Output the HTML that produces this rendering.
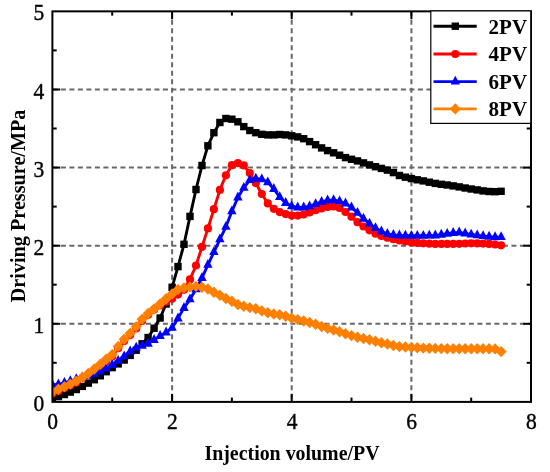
<!DOCTYPE html>
<html><head><meta charset="utf-8"><title>Driving Pressure vs Injection volume</title>
<style>html,body{margin:0;padding:0;background:#fff}svg{display:block}text{font-family:"Liberation Serif",serif;fill:#000}</style></head><body>
<svg width="550" height="472" viewBox="0 0 550 472">
<rect width="550" height="472" fill="#fff"/>
<g stroke="#686868" stroke-width="2" stroke-dasharray="5 3.5" fill="none"><line x1="172.1" y1="11.35" x2="172.1" y2="401.9"/><line x1="291.7" y1="11.35" x2="291.7" y2="401.9"/><line x1="411.4" y1="11.35" x2="411.4" y2="401.9"/><line x1="52.4" y1="323.8" x2="531.0" y2="323.8"/><line x1="52.4" y1="245.7" x2="531.0" y2="245.7"/><line x1="52.4" y1="167.6" x2="531.0" y2="167.6"/><line x1="52.4" y1="89.5" x2="531.0" y2="89.5"/></g>
<clipPath id="c"><rect x="52.4" y="11.35" width="478.6" height="390.54999999999995"/></clipPath>
<g clip-path="url(#c)"><polyline points="52.4,398.4 58.4,396.6 64.4,394.5 70.3,392.1 76.3,389.5 82.3,386.4 88.3,383.1 94.3,379.7 100.3,375.8 106.2,371.7 112.2,367.6 118.2,363.9 124.2,360.0 130.2,355.4 136.2,350.2 142.1,343.8 148.1,337.5 154.1,328.2 160.1,318.0 166.1,304.0 172.1,287.3 178.0,266.6 184.0,244.3 190.0,216.4 196.0,189.5 202.0,165.5 207.9,145.8 213.9,132.7 219.9,122.5 225.9,118.5 231.9,119.2 237.9,121.8 243.8,126.6 249.8,130.5 255.8,132.7 261.8,134.3 267.8,134.9 273.8,134.9 279.7,134.5 285.7,134.9 291.7,135.8 297.7,136.9 303.7,138.7 309.6,141.6 315.6,144.7 321.6,147.9 327.6,150.6 333.6,152.8 339.6,155.2 345.5,157.6 351.5,159.3 357.5,160.9 363.5,162.9 369.5,164.9 375.5,166.7 381.4,168.4 387.4,170.1 393.4,172.6 399.4,175.5 405.4,177.2 411.4,178.6 417.3,179.8 423.3,180.9 429.3,182.2 435.3,183.4 441.3,184.3 447.2,185.0 453.2,185.9 459.2,186.9 465.2,188.0 471.2,189.0 477.2,189.9 483.1,190.9 489.1,191.5 495.1,191.7 501.1,191.3" fill="none" stroke="#000000" stroke-width="2.9" stroke-linejoin="round"/>
<rect x="48.7" y="394.7" width="7.4" height="7.4" fill="#000000"/><rect x="54.7" y="392.9" width="7.4" height="7.4" fill="#000000"/><rect x="60.7" y="390.8" width="7.4" height="7.4" fill="#000000"/><rect x="66.6" y="388.4" width="7.4" height="7.4" fill="#000000"/><rect x="72.6" y="385.8" width="7.4" height="7.4" fill="#000000"/><rect x="78.6" y="382.7" width="7.4" height="7.4" fill="#000000"/><rect x="84.6" y="379.4" width="7.4" height="7.4" fill="#000000"/><rect x="90.6" y="376.0" width="7.4" height="7.4" fill="#000000"/><rect x="96.6" y="372.1" width="7.4" height="7.4" fill="#000000"/><rect x="102.5" y="368.0" width="7.4" height="7.4" fill="#000000"/><rect x="108.5" y="363.9" width="7.4" height="7.4" fill="#000000"/><rect x="114.5" y="360.2" width="7.4" height="7.4" fill="#000000"/><rect x="120.5" y="356.3" width="7.4" height="7.4" fill="#000000"/><rect x="126.5" y="351.7" width="7.4" height="7.4" fill="#000000"/><rect x="132.5" y="346.5" width="7.4" height="7.4" fill="#000000"/><rect x="138.4" y="340.1" width="7.4" height="7.4" fill="#000000"/><rect x="144.4" y="333.8" width="7.4" height="7.4" fill="#000000"/><rect x="150.4" y="324.5" width="7.4" height="7.4" fill="#000000"/><rect x="156.4" y="314.3" width="7.4" height="7.4" fill="#000000"/><rect x="162.4" y="300.3" width="7.4" height="7.4" fill="#000000"/><rect x="168.4" y="283.6" width="7.4" height="7.4" fill="#000000"/><rect x="174.3" y="262.9" width="7.4" height="7.4" fill="#000000"/><rect x="180.3" y="240.6" width="7.4" height="7.4" fill="#000000"/><rect x="186.3" y="212.7" width="7.4" height="7.4" fill="#000000"/><rect x="192.3" y="185.8" width="7.4" height="7.4" fill="#000000"/><rect x="198.3" y="161.8" width="7.4" height="7.4" fill="#000000"/><rect x="204.2" y="142.1" width="7.4" height="7.4" fill="#000000"/><rect x="210.2" y="129.0" width="7.4" height="7.4" fill="#000000"/><rect x="216.2" y="118.8" width="7.4" height="7.4" fill="#000000"/><rect x="222.2" y="114.8" width="7.4" height="7.4" fill="#000000"/><rect x="228.2" y="115.5" width="7.4" height="7.4" fill="#000000"/><rect x="234.2" y="118.1" width="7.4" height="7.4" fill="#000000"/><rect x="240.1" y="122.9" width="7.4" height="7.4" fill="#000000"/><rect x="246.1" y="126.8" width="7.4" height="7.4" fill="#000000"/><rect x="252.1" y="129.0" width="7.4" height="7.4" fill="#000000"/><rect x="258.1" y="130.6" width="7.4" height="7.4" fill="#000000"/><rect x="264.1" y="131.2" width="7.4" height="7.4" fill="#000000"/><rect x="270.1" y="131.2" width="7.4" height="7.4" fill="#000000"/><rect x="276.0" y="130.8" width="7.4" height="7.4" fill="#000000"/><rect x="282.0" y="131.2" width="7.4" height="7.4" fill="#000000"/><rect x="288.0" y="132.1" width="7.4" height="7.4" fill="#000000"/><rect x="294.0" y="133.2" width="7.4" height="7.4" fill="#000000"/><rect x="300.0" y="135.0" width="7.4" height="7.4" fill="#000000"/><rect x="305.9" y="137.9" width="7.4" height="7.4" fill="#000000"/><rect x="311.9" y="141.0" width="7.4" height="7.4" fill="#000000"/><rect x="317.9" y="144.2" width="7.4" height="7.4" fill="#000000"/><rect x="323.9" y="146.9" width="7.4" height="7.4" fill="#000000"/><rect x="329.9" y="149.1" width="7.4" height="7.4" fill="#000000"/><rect x="335.9" y="151.5" width="7.4" height="7.4" fill="#000000"/><rect x="341.8" y="153.9" width="7.4" height="7.4" fill="#000000"/><rect x="347.8" y="155.6" width="7.4" height="7.4" fill="#000000"/><rect x="353.8" y="157.2" width="7.4" height="7.4" fill="#000000"/><rect x="359.8" y="159.2" width="7.4" height="7.4" fill="#000000"/><rect x="365.8" y="161.2" width="7.4" height="7.4" fill="#000000"/><rect x="371.8" y="163.0" width="7.4" height="7.4" fill="#000000"/><rect x="377.7" y="164.7" width="7.4" height="7.4" fill="#000000"/><rect x="383.7" y="166.4" width="7.4" height="7.4" fill="#000000"/><rect x="389.7" y="168.9" width="7.4" height="7.4" fill="#000000"/><rect x="395.7" y="171.8" width="7.4" height="7.4" fill="#000000"/><rect x="401.7" y="173.5" width="7.4" height="7.4" fill="#000000"/><rect x="407.7" y="174.9" width="7.4" height="7.4" fill="#000000"/><rect x="413.6" y="176.1" width="7.4" height="7.4" fill="#000000"/><rect x="419.6" y="177.2" width="7.4" height="7.4" fill="#000000"/><rect x="425.6" y="178.5" width="7.4" height="7.4" fill="#000000"/><rect x="431.6" y="179.7" width="7.4" height="7.4" fill="#000000"/><rect x="437.6" y="180.6" width="7.4" height="7.4" fill="#000000"/><rect x="443.5" y="181.3" width="7.4" height="7.4" fill="#000000"/><rect x="449.5" y="182.2" width="7.4" height="7.4" fill="#000000"/><rect x="455.5" y="183.2" width="7.4" height="7.4" fill="#000000"/><rect x="461.5" y="184.3" width="7.4" height="7.4" fill="#000000"/><rect x="467.5" y="185.3" width="7.4" height="7.4" fill="#000000"/><rect x="473.5" y="186.2" width="7.4" height="7.4" fill="#000000"/><rect x="479.4" y="187.2" width="7.4" height="7.4" fill="#000000"/><rect x="485.4" y="187.8" width="7.4" height="7.4" fill="#000000"/><rect x="491.4" y="188.0" width="7.4" height="7.4" fill="#000000"/><rect x="497.4" y="187.6" width="7.4" height="7.4" fill="#000000"/></g>
<g clip-path="url(#c)"><polyline points="52.4,393.7 58.4,390.9 64.4,388.0 70.3,385.3 76.3,382.3 82.3,378.1 88.3,374.5 94.3,371.3 100.3,366.7 106.2,361.5 112.2,356.5 118.2,348.2 124.2,341.1 130.2,335.1 136.2,328.4 142.1,321.0 148.1,314.8 154.1,309.6 160.1,305.4 166.1,301.7 172.1,298.7 178.0,294.6 184.0,289.8 190.0,279.4 196.0,265.5 202.0,246.9 207.9,228.4 213.9,209.2 219.9,189.9 225.9,175.3 231.9,165.2 237.9,163.2 243.8,165.4 249.8,173.1 255.8,183.1 261.8,194.0 267.8,203.4 273.8,208.8 279.7,212.1 285.7,214.1 291.7,215.6 297.7,215.6 303.7,214.5 309.6,212.4 315.6,210.2 321.6,208.5 327.6,206.9 333.6,206.5 339.6,208.0 345.5,212.0 351.5,216.7 357.5,222.2 363.5,226.5 369.5,230.3 375.5,233.7 381.4,235.9 387.4,237.7 393.4,239.2 399.4,240.4 405.4,241.5 411.4,242.4 417.3,242.9 423.3,243.3 429.3,243.7 435.3,243.9 441.3,243.9 447.2,243.9 453.2,243.9 459.2,243.8 465.2,243.5 471.2,243.3 477.2,243.4 483.1,243.6 489.1,243.9 495.1,244.5 501.1,245.3" fill="none" stroke="#ff0000" stroke-width="2.9" stroke-linejoin="round"/>
<circle cx="52.4" cy="393.7" r="4.1" fill="#ff0000"/><circle cx="58.4" cy="390.9" r="4.1" fill="#ff0000"/><circle cx="64.4" cy="388.0" r="4.1" fill="#ff0000"/><circle cx="70.3" cy="385.3" r="4.1" fill="#ff0000"/><circle cx="76.3" cy="382.3" r="4.1" fill="#ff0000"/><circle cx="82.3" cy="378.1" r="4.1" fill="#ff0000"/><circle cx="88.3" cy="374.5" r="4.1" fill="#ff0000"/><circle cx="94.3" cy="371.3" r="4.1" fill="#ff0000"/><circle cx="100.3" cy="366.7" r="4.1" fill="#ff0000"/><circle cx="106.2" cy="361.5" r="4.1" fill="#ff0000"/><circle cx="112.2" cy="356.5" r="4.1" fill="#ff0000"/><circle cx="118.2" cy="348.2" r="4.1" fill="#ff0000"/><circle cx="124.2" cy="341.1" r="4.1" fill="#ff0000"/><circle cx="130.2" cy="335.1" r="4.1" fill="#ff0000"/><circle cx="136.2" cy="328.4" r="4.1" fill="#ff0000"/><circle cx="142.1" cy="321.0" r="4.1" fill="#ff0000"/><circle cx="148.1" cy="314.8" r="4.1" fill="#ff0000"/><circle cx="154.1" cy="309.6" r="4.1" fill="#ff0000"/><circle cx="160.1" cy="305.4" r="4.1" fill="#ff0000"/><circle cx="166.1" cy="301.7" r="4.1" fill="#ff0000"/><circle cx="172.1" cy="298.7" r="4.1" fill="#ff0000"/><circle cx="178.0" cy="294.6" r="4.1" fill="#ff0000"/><circle cx="184.0" cy="289.8" r="4.1" fill="#ff0000"/><circle cx="190.0" cy="279.4" r="4.1" fill="#ff0000"/><circle cx="196.0" cy="265.5" r="4.1" fill="#ff0000"/><circle cx="202.0" cy="246.9" r="4.1" fill="#ff0000"/><circle cx="207.9" cy="228.4" r="4.1" fill="#ff0000"/><circle cx="213.9" cy="209.2" r="4.1" fill="#ff0000"/><circle cx="219.9" cy="189.9" r="4.1" fill="#ff0000"/><circle cx="225.9" cy="175.3" r="4.1" fill="#ff0000"/><circle cx="231.9" cy="165.2" r="4.1" fill="#ff0000"/><circle cx="237.9" cy="163.2" r="4.1" fill="#ff0000"/><circle cx="243.8" cy="165.4" r="4.1" fill="#ff0000"/><circle cx="249.8" cy="173.1" r="4.1" fill="#ff0000"/><circle cx="255.8" cy="183.1" r="4.1" fill="#ff0000"/><circle cx="261.8" cy="194.0" r="4.1" fill="#ff0000"/><circle cx="267.8" cy="203.4" r="4.1" fill="#ff0000"/><circle cx="273.8" cy="208.8" r="4.1" fill="#ff0000"/><circle cx="279.7" cy="212.1" r="4.1" fill="#ff0000"/><circle cx="285.7" cy="214.1" r="4.1" fill="#ff0000"/><circle cx="291.7" cy="215.6" r="4.1" fill="#ff0000"/><circle cx="297.7" cy="215.6" r="4.1" fill="#ff0000"/><circle cx="303.7" cy="214.5" r="4.1" fill="#ff0000"/><circle cx="309.6" cy="212.4" r="4.1" fill="#ff0000"/><circle cx="315.6" cy="210.2" r="4.1" fill="#ff0000"/><circle cx="321.6" cy="208.5" r="4.1" fill="#ff0000"/><circle cx="327.6" cy="206.9" r="4.1" fill="#ff0000"/><circle cx="333.6" cy="206.5" r="4.1" fill="#ff0000"/><circle cx="339.6" cy="208.0" r="4.1" fill="#ff0000"/><circle cx="345.5" cy="212.0" r="4.1" fill="#ff0000"/><circle cx="351.5" cy="216.7" r="4.1" fill="#ff0000"/><circle cx="357.5" cy="222.2" r="4.1" fill="#ff0000"/><circle cx="363.5" cy="226.5" r="4.1" fill="#ff0000"/><circle cx="369.5" cy="230.3" r="4.1" fill="#ff0000"/><circle cx="375.5" cy="233.7" r="4.1" fill="#ff0000"/><circle cx="381.4" cy="235.9" r="4.1" fill="#ff0000"/><circle cx="387.4" cy="237.7" r="4.1" fill="#ff0000"/><circle cx="393.4" cy="239.2" r="4.1" fill="#ff0000"/><circle cx="399.4" cy="240.4" r="4.1" fill="#ff0000"/><circle cx="405.4" cy="241.5" r="4.1" fill="#ff0000"/><circle cx="411.4" cy="242.4" r="4.1" fill="#ff0000"/><circle cx="417.3" cy="242.9" r="4.1" fill="#ff0000"/><circle cx="423.3" cy="243.3" r="4.1" fill="#ff0000"/><circle cx="429.3" cy="243.7" r="4.1" fill="#ff0000"/><circle cx="435.3" cy="243.9" r="4.1" fill="#ff0000"/><circle cx="441.3" cy="243.9" r="4.1" fill="#ff0000"/><circle cx="447.2" cy="243.9" r="4.1" fill="#ff0000"/><circle cx="453.2" cy="243.9" r="4.1" fill="#ff0000"/><circle cx="459.2" cy="243.8" r="4.1" fill="#ff0000"/><circle cx="465.2" cy="243.5" r="4.1" fill="#ff0000"/><circle cx="471.2" cy="243.3" r="4.1" fill="#ff0000"/><circle cx="477.2" cy="243.4" r="4.1" fill="#ff0000"/><circle cx="483.1" cy="243.6" r="4.1" fill="#ff0000"/><circle cx="489.1" cy="243.9" r="4.1" fill="#ff0000"/><circle cx="495.1" cy="244.5" r="4.1" fill="#ff0000"/><circle cx="501.1" cy="245.3" r="4.1" fill="#ff0000"/></g>
<g clip-path="url(#c)"><polyline points="52.4,385.0 58.4,384.3 64.4,382.8 70.3,381.1 76.3,379.2 82.3,377.5 88.3,375.8 94.3,373.8 100.3,371.5 106.2,368.6 112.2,364.9 118.2,360.8 124.2,356.3 130.2,351.5 136.2,347.7 142.1,345.7 148.1,343.8 154.1,339.9 160.1,336.0 166.1,332.5 172.1,327.8 178.0,318.4 184.0,307.9 190.0,299.3 196.0,289.2 202.0,277.9 207.9,264.8 213.9,252.1 219.9,239.3 225.9,226.8 231.9,211.3 237.9,197.5 243.8,187.8 249.8,180.1 255.8,178.7 261.8,179.3 267.8,182.3 273.8,188.9 279.7,197.1 285.7,203.0 291.7,206.3 297.7,207.4 303.7,207.4 309.6,206.3 315.6,204.1 321.6,201.9 327.6,200.4 333.6,200.2 339.6,201.3 345.5,203.5 351.5,207.4 357.5,212.8 363.5,218.7 369.5,223.7 375.5,228.1 381.4,231.4 387.4,234.0 393.4,235.0 399.4,235.4 405.4,235.6 411.4,235.8 417.3,235.8 423.3,235.8 429.3,235.6 435.3,235.4 441.3,234.7 447.2,233.8 453.2,233.0 459.2,232.5 465.2,233.4 471.2,234.6 477.2,235.3 483.1,236.1 489.1,236.7 495.1,237.2 501.1,237.1" fill="none" stroke="#0000ff" stroke-width="2.9" stroke-linejoin="round"/>
<path d="M52.4 379.1L57.1 388.0L47.7 388.0Z" fill="#0000ff"/><path d="M58.4 378.4L63.1 387.3L53.7 387.3Z" fill="#0000ff"/><path d="M64.4 376.9L69.1 385.8L59.7 385.8Z" fill="#0000ff"/><path d="M70.3 375.2L75.0 384.1L65.6 384.1Z" fill="#0000ff"/><path d="M76.3 373.3L81.0 382.2L71.6 382.2Z" fill="#0000ff"/><path d="M82.3 371.6L87.0 380.5L77.6 380.5Z" fill="#0000ff"/><path d="M88.3 369.9L93.0 378.8L83.6 378.8Z" fill="#0000ff"/><path d="M94.3 367.9L99.0 376.8L89.6 376.8Z" fill="#0000ff"/><path d="M100.3 365.6L105.0 374.5L95.6 374.5Z" fill="#0000ff"/><path d="M106.2 362.7L110.9 371.6L101.5 371.6Z" fill="#0000ff"/><path d="M112.2 359.0L116.9 367.9L107.5 367.9Z" fill="#0000ff"/><path d="M118.2 354.9L122.9 363.8L113.5 363.8Z" fill="#0000ff"/><path d="M124.2 350.4L128.9 359.3L119.5 359.3Z" fill="#0000ff"/><path d="M130.2 345.6L134.9 354.5L125.5 354.5Z" fill="#0000ff"/><path d="M136.2 341.8L140.9 350.7L131.5 350.7Z" fill="#0000ff"/><path d="M142.1 339.8L146.8 348.7L137.4 348.7Z" fill="#0000ff"/><path d="M148.1 337.9L152.8 346.8L143.4 346.8Z" fill="#0000ff"/><path d="M154.1 334.0L158.8 342.9L149.4 342.9Z" fill="#0000ff"/><path d="M160.1 330.1L164.8 339.0L155.4 339.0Z" fill="#0000ff"/><path d="M166.1 326.6L170.8 335.5L161.4 335.5Z" fill="#0000ff"/><path d="M172.1 321.9L176.8 330.8L167.4 330.8Z" fill="#0000ff"/><path d="M178.0 312.5L182.7 321.4L173.3 321.4Z" fill="#0000ff"/><path d="M184.0 302.0L188.7 310.9L179.3 310.9Z" fill="#0000ff"/><path d="M190.0 293.4L194.7 302.3L185.3 302.3Z" fill="#0000ff"/><path d="M196.0 283.3L200.7 292.2L191.3 292.2Z" fill="#0000ff"/><path d="M202.0 272.0L206.7 280.9L197.3 280.9Z" fill="#0000ff"/><path d="M207.9 258.9L212.6 267.8L203.2 267.8Z" fill="#0000ff"/><path d="M213.9 246.2L218.6 255.1L209.2 255.1Z" fill="#0000ff"/><path d="M219.9 233.4L224.6 242.3L215.2 242.3Z" fill="#0000ff"/><path d="M225.9 220.9L230.6 229.8L221.2 229.8Z" fill="#0000ff"/><path d="M231.9 205.4L236.6 214.3L227.2 214.3Z" fill="#0000ff"/><path d="M237.9 191.6L242.6 200.5L233.2 200.5Z" fill="#0000ff"/><path d="M243.8 181.9L248.5 190.8L239.1 190.8Z" fill="#0000ff"/><path d="M249.8 174.2L254.5 183.1L245.1 183.1Z" fill="#0000ff"/><path d="M255.8 172.8L260.5 181.7L251.1 181.7Z" fill="#0000ff"/><path d="M261.8 173.4L266.5 182.3L257.1 182.3Z" fill="#0000ff"/><path d="M267.8 176.4L272.5 185.3L263.1 185.3Z" fill="#0000ff"/><path d="M273.8 183.0L278.5 191.9L269.1 191.9Z" fill="#0000ff"/><path d="M279.7 191.2L284.4 200.1L275.0 200.1Z" fill="#0000ff"/><path d="M285.7 197.1L290.4 206.0L281.0 206.0Z" fill="#0000ff"/><path d="M291.7 200.4L296.4 209.3L287.0 209.3Z" fill="#0000ff"/><path d="M297.7 201.5L302.4 210.4L293.0 210.4Z" fill="#0000ff"/><path d="M303.7 201.5L308.4 210.4L299.0 210.4Z" fill="#0000ff"/><path d="M309.6 200.4L314.3 209.3L304.9 209.3Z" fill="#0000ff"/><path d="M315.6 198.2L320.3 207.1L310.9 207.1Z" fill="#0000ff"/><path d="M321.6 196.0L326.3 204.9L316.9 204.9Z" fill="#0000ff"/><path d="M327.6 194.5L332.3 203.4L322.9 203.4Z" fill="#0000ff"/><path d="M333.6 194.3L338.3 203.2L328.9 203.2Z" fill="#0000ff"/><path d="M339.6 195.4L344.3 204.3L334.9 204.3Z" fill="#0000ff"/><path d="M345.5 197.6L350.2 206.5L340.8 206.5Z" fill="#0000ff"/><path d="M351.5 201.5L356.2 210.4L346.8 210.4Z" fill="#0000ff"/><path d="M357.5 206.9L362.2 215.8L352.8 215.8Z" fill="#0000ff"/><path d="M363.5 212.8L368.2 221.7L358.8 221.7Z" fill="#0000ff"/><path d="M369.5 217.8L374.2 226.7L364.8 226.7Z" fill="#0000ff"/><path d="M375.5 222.2L380.2 231.1L370.8 231.1Z" fill="#0000ff"/><path d="M381.4 225.5L386.1 234.4L376.7 234.4Z" fill="#0000ff"/><path d="M387.4 228.1L392.1 237.0L382.7 237.0Z" fill="#0000ff"/><path d="M393.4 229.1L398.1 238.0L388.7 238.0Z" fill="#0000ff"/><path d="M399.4 229.5L404.1 238.4L394.7 238.4Z" fill="#0000ff"/><path d="M405.4 229.7L410.1 238.6L400.7 238.6Z" fill="#0000ff"/><path d="M411.4 229.9L416.1 238.8L406.7 238.8Z" fill="#0000ff"/><path d="M417.3 229.9L422.0 238.8L412.6 238.8Z" fill="#0000ff"/><path d="M423.3 229.9L428.0 238.8L418.6 238.8Z" fill="#0000ff"/><path d="M429.3 229.7L434.0 238.6L424.6 238.6Z" fill="#0000ff"/><path d="M435.3 229.5L440.0 238.4L430.6 238.4Z" fill="#0000ff"/><path d="M441.3 228.8L446.0 237.7L436.6 237.7Z" fill="#0000ff"/><path d="M447.2 227.9L451.9 236.8L442.5 236.8Z" fill="#0000ff"/><path d="M453.2 227.1L457.9 236.0L448.5 236.0Z" fill="#0000ff"/><path d="M459.2 226.6L463.9 235.5L454.5 235.5Z" fill="#0000ff"/><path d="M465.2 227.5L469.9 236.4L460.5 236.4Z" fill="#0000ff"/><path d="M471.2 228.7L475.9 237.6L466.5 237.6Z" fill="#0000ff"/><path d="M477.2 229.4L481.9 238.3L472.5 238.3Z" fill="#0000ff"/><path d="M483.1 230.2L487.8 239.1L478.4 239.1Z" fill="#0000ff"/><path d="M489.1 230.8L493.8 239.7L484.4 239.7Z" fill="#0000ff"/><path d="M495.1 231.3L499.8 240.2L490.4 240.2Z" fill="#0000ff"/><path d="M501.1 231.2L505.8 240.1L496.4 240.1Z" fill="#0000ff"/></g>
<g clip-path="url(#c)"><polyline points="52.4,392.0 58.4,389.3 64.4,386.7 70.3,384.1 76.3,381.1 82.3,377.5 88.3,373.4 94.3,369.0 100.3,364.3 106.2,359.3 112.2,354.6 118.2,346.4 124.2,339.3 130.2,333.3 136.2,326.6 142.1,319.3 148.1,313.5 154.1,308.9 160.1,304.0 166.1,298.8 172.1,293.9 178.0,289.4 184.0,287.9 190.0,286.9 196.0,286.4 202.0,287.2 207.9,289.0 213.9,292.3 219.9,295.2 225.9,298.5 231.9,301.2 237.9,304.5 243.8,306.3 249.8,307.6 255.8,308.7 261.8,310.9 267.8,312.8 273.8,314.0 279.7,314.7 285.7,316.3 291.7,318.2 297.7,319.6 303.7,321.0 309.6,322.5 315.6,324.2 321.6,326.5 327.6,328.4 333.6,330.0 339.6,331.8 345.5,333.8 351.5,335.6 357.5,337.2 363.5,338.5 369.5,339.8 375.5,341.3 381.4,342.7 387.4,344.0 393.4,345.5 399.4,346.6 405.4,347.0 411.4,347.4 417.3,347.8 423.3,348.1 429.3,348.3 435.3,348.4 441.3,348.6 447.2,348.8 453.2,348.8 459.2,348.8 465.2,348.8 471.2,348.8 477.2,348.8 483.1,348.8 489.1,348.8 495.1,348.9 501.1,351.6" fill="none" stroke="#ff8000" stroke-width="2.9" stroke-linejoin="round"/>
<path d="M52.4 386.3L57.9 392.0L52.4 397.7L46.9 392.0Z" fill="#ff8000"/><path d="M58.4 383.6L63.9 389.3L58.4 395.0L52.9 389.3Z" fill="#ff8000"/><path d="M64.4 381.0L69.9 386.7L64.4 392.4L58.9 386.7Z" fill="#ff8000"/><path d="M70.3 378.4L75.8 384.1L70.3 389.8L64.8 384.1Z" fill="#ff8000"/><path d="M76.3 375.4L81.8 381.1L76.3 386.8L70.8 381.1Z" fill="#ff8000"/><path d="M82.3 371.8L87.8 377.5L82.3 383.2L76.8 377.5Z" fill="#ff8000"/><path d="M88.3 367.7L93.8 373.4L88.3 379.1L82.8 373.4Z" fill="#ff8000"/><path d="M94.3 363.3L99.8 369.0L94.3 374.7L88.8 369.0Z" fill="#ff8000"/><path d="M100.3 358.6L105.8 364.3L100.3 370.0L94.8 364.3Z" fill="#ff8000"/><path d="M106.2 353.6L111.7 359.3L106.2 365.0L100.7 359.3Z" fill="#ff8000"/><path d="M112.2 348.9L117.7 354.6L112.2 360.3L106.7 354.6Z" fill="#ff8000"/><path d="M118.2 340.7L123.7 346.4L118.2 352.1L112.7 346.4Z" fill="#ff8000"/><path d="M124.2 333.6L129.7 339.3L124.2 345.0L118.7 339.3Z" fill="#ff8000"/><path d="M130.2 327.6L135.7 333.3L130.2 339.0L124.7 333.3Z" fill="#ff8000"/><path d="M136.2 320.9L141.7 326.6L136.2 332.3L130.7 326.6Z" fill="#ff8000"/><path d="M142.1 313.6L147.6 319.3L142.1 325.0L136.6 319.3Z" fill="#ff8000"/><path d="M148.1 307.8L153.6 313.5L148.1 319.2L142.6 313.5Z" fill="#ff8000"/><path d="M154.1 303.2L159.6 308.9L154.1 314.6L148.6 308.9Z" fill="#ff8000"/><path d="M160.1 298.3L165.6 304.0L160.1 309.7L154.6 304.0Z" fill="#ff8000"/><path d="M166.1 293.1L171.6 298.8L166.1 304.5L160.6 298.8Z" fill="#ff8000"/><path d="M172.1 288.2L177.6 293.9L172.1 299.6L166.6 293.9Z" fill="#ff8000"/><path d="M178.0 283.7L183.5 289.4L178.0 295.1L172.5 289.4Z" fill="#ff8000"/><path d="M184.0 282.2L189.5 287.9L184.0 293.6L178.5 287.9Z" fill="#ff8000"/><path d="M190.0 281.2L195.5 286.9L190.0 292.6L184.5 286.9Z" fill="#ff8000"/><path d="M196.0 280.7L201.5 286.4L196.0 292.1L190.5 286.4Z" fill="#ff8000"/><path d="M202.0 281.5L207.5 287.2L202.0 292.9L196.5 287.2Z" fill="#ff8000"/><path d="M207.9 283.3L213.4 289.0L207.9 294.7L202.4 289.0Z" fill="#ff8000"/><path d="M213.9 286.6L219.4 292.3L213.9 298.0L208.4 292.3Z" fill="#ff8000"/><path d="M219.9 289.5L225.4 295.2L219.9 300.9L214.4 295.2Z" fill="#ff8000"/><path d="M225.9 292.8L231.4 298.5L225.9 304.2L220.4 298.5Z" fill="#ff8000"/><path d="M231.9 295.5L237.4 301.2L231.9 306.9L226.4 301.2Z" fill="#ff8000"/><path d="M237.9 298.8L243.4 304.5L237.9 310.2L232.4 304.5Z" fill="#ff8000"/><path d="M243.8 300.6L249.3 306.3L243.8 312.0L238.3 306.3Z" fill="#ff8000"/><path d="M249.8 301.9L255.3 307.6L249.8 313.3L244.3 307.6Z" fill="#ff8000"/><path d="M255.8 303.0L261.3 308.7L255.8 314.4L250.3 308.7Z" fill="#ff8000"/><path d="M261.8 305.2L267.3 310.9L261.8 316.6L256.3 310.9Z" fill="#ff8000"/><path d="M267.8 307.1L273.3 312.8L267.8 318.5L262.3 312.8Z" fill="#ff8000"/><path d="M273.8 308.3L279.3 314.0L273.8 319.7L268.3 314.0Z" fill="#ff8000"/><path d="M279.7 309.0L285.2 314.7L279.7 320.4L274.2 314.7Z" fill="#ff8000"/><path d="M285.7 310.6L291.2 316.3L285.7 322.0L280.2 316.3Z" fill="#ff8000"/><path d="M291.7 312.5L297.2 318.2L291.7 323.9L286.2 318.2Z" fill="#ff8000"/><path d="M297.7 313.9L303.2 319.6L297.7 325.3L292.2 319.6Z" fill="#ff8000"/><path d="M303.7 315.3L309.2 321.0L303.7 326.7L298.2 321.0Z" fill="#ff8000"/><path d="M309.6 316.8L315.1 322.5L309.6 328.2L304.1 322.5Z" fill="#ff8000"/><path d="M315.6 318.5L321.1 324.2L315.6 329.9L310.1 324.2Z" fill="#ff8000"/><path d="M321.6 320.8L327.1 326.5L321.6 332.2L316.1 326.5Z" fill="#ff8000"/><path d="M327.6 322.7L333.1 328.4L327.6 334.1L322.1 328.4Z" fill="#ff8000"/><path d="M333.6 324.3L339.1 330.0L333.6 335.7L328.1 330.0Z" fill="#ff8000"/><path d="M339.6 326.1L345.1 331.8L339.6 337.5L334.1 331.8Z" fill="#ff8000"/><path d="M345.5 328.1L351.0 333.8L345.5 339.5L340.0 333.8Z" fill="#ff8000"/><path d="M351.5 329.9L357.0 335.6L351.5 341.3L346.0 335.6Z" fill="#ff8000"/><path d="M357.5 331.5L363.0 337.2L357.5 342.9L352.0 337.2Z" fill="#ff8000"/><path d="M363.5 332.8L369.0 338.5L363.5 344.2L358.0 338.5Z" fill="#ff8000"/><path d="M369.5 334.1L375.0 339.8L369.5 345.5L364.0 339.8Z" fill="#ff8000"/><path d="M375.5 335.6L381.0 341.3L375.5 347.0L370.0 341.3Z" fill="#ff8000"/><path d="M381.4 337.0L386.9 342.7L381.4 348.4L375.9 342.7Z" fill="#ff8000"/><path d="M387.4 338.3L392.9 344.0L387.4 349.7L381.9 344.0Z" fill="#ff8000"/><path d="M393.4 339.8L398.9 345.5L393.4 351.2L387.9 345.5Z" fill="#ff8000"/><path d="M399.4 340.9L404.9 346.6L399.4 352.3L393.9 346.6Z" fill="#ff8000"/><path d="M405.4 341.3L410.9 347.0L405.4 352.7L399.9 347.0Z" fill="#ff8000"/><path d="M411.4 341.7L416.9 347.4L411.4 353.1L405.9 347.4Z" fill="#ff8000"/><path d="M417.3 342.1L422.8 347.8L417.3 353.5L411.8 347.8Z" fill="#ff8000"/><path d="M423.3 342.4L428.8 348.1L423.3 353.8L417.8 348.1Z" fill="#ff8000"/><path d="M429.3 342.6L434.8 348.3L429.3 354.0L423.8 348.3Z" fill="#ff8000"/><path d="M435.3 342.7L440.8 348.4L435.3 354.1L429.8 348.4Z" fill="#ff8000"/><path d="M441.3 342.9L446.8 348.6L441.3 354.3L435.8 348.6Z" fill="#ff8000"/><path d="M447.2 343.1L452.7 348.8L447.2 354.5L441.7 348.8Z" fill="#ff8000"/><path d="M453.2 343.1L458.7 348.8L453.2 354.5L447.7 348.8Z" fill="#ff8000"/><path d="M459.2 343.1L464.7 348.8L459.2 354.5L453.7 348.8Z" fill="#ff8000"/><path d="M465.2 343.1L470.7 348.8L465.2 354.5L459.7 348.8Z" fill="#ff8000"/><path d="M471.2 343.1L476.7 348.8L471.2 354.5L465.7 348.8Z" fill="#ff8000"/><path d="M477.2 343.1L482.7 348.8L477.2 354.5L471.7 348.8Z" fill="#ff8000"/><path d="M483.1 343.1L488.6 348.8L483.1 354.5L477.6 348.8Z" fill="#ff8000"/><path d="M489.1 343.1L494.6 348.8L489.1 354.5L483.6 348.8Z" fill="#ff8000"/><path d="M495.1 343.2L500.6 348.9L495.1 354.6L489.6 348.9Z" fill="#ff8000"/><path d="M501.1 345.9L506.6 351.6L501.1 357.3L495.6 351.6Z" fill="#ff8000"/></g>
<g stroke="#000" stroke-width="2" fill="none"><line x1="112.2" y1="401.9" x2="112.2" y2="397.59999999999997"/><line x1="112.2" y1="11.35" x2="112.2" y2="15.649999999999999"/><line x1="172.1" y1="401.9" x2="172.1" y2="394.09999999999997"/><line x1="172.1" y1="11.35" x2="172.1" y2="19.15"/><line x1="231.9" y1="401.9" x2="231.9" y2="397.59999999999997"/><line x1="231.9" y1="11.35" x2="231.9" y2="15.649999999999999"/><line x1="291.7" y1="401.9" x2="291.7" y2="394.09999999999997"/><line x1="291.7" y1="11.35" x2="291.7" y2="19.15"/><line x1="351.5" y1="401.9" x2="351.5" y2="397.59999999999997"/><line x1="351.5" y1="11.35" x2="351.5" y2="15.649999999999999"/><line x1="411.4" y1="401.9" x2="411.4" y2="394.09999999999997"/><line x1="411.4" y1="11.35" x2="411.4" y2="19.15"/><line x1="471.2" y1="401.9" x2="471.2" y2="397.59999999999997"/><line x1="471.2" y1="11.35" x2="471.2" y2="15.649999999999999"/><line x1="52.4" y1="362.8" x2="56.699999999999996" y2="362.8"/><line x1="531.0" y1="362.8" x2="526.7" y2="362.8"/><line x1="52.4" y1="323.8" x2="60.199999999999996" y2="323.8"/><line x1="531.0" y1="323.8" x2="523.2" y2="323.8"/><line x1="52.4" y1="284.7" x2="56.699999999999996" y2="284.7"/><line x1="531.0" y1="284.7" x2="526.7" y2="284.7"/><line x1="52.4" y1="245.7" x2="60.199999999999996" y2="245.7"/><line x1="531.0" y1="245.7" x2="523.2" y2="245.7"/><line x1="52.4" y1="206.6" x2="56.699999999999996" y2="206.6"/><line x1="531.0" y1="206.6" x2="526.7" y2="206.6"/><line x1="52.4" y1="167.6" x2="60.199999999999996" y2="167.6"/><line x1="531.0" y1="167.6" x2="523.2" y2="167.6"/><line x1="52.4" y1="128.5" x2="56.699999999999996" y2="128.5"/><line x1="531.0" y1="128.5" x2="526.7" y2="128.5"/><line x1="52.4" y1="89.5" x2="60.199999999999996" y2="89.5"/><line x1="531.0" y1="89.5" x2="523.2" y2="89.5"/><line x1="52.4" y1="50.4" x2="56.699999999999996" y2="50.4"/><line x1="531.0" y1="50.4" x2="526.7" y2="50.4"/></g>
<rect x="52.4" y="11.35" width="478.6" height="390.54999999999995" fill="none" stroke="#000" stroke-width="2"/>
<g font-size="23.5" stroke="#000" stroke-width="0.4"><text transform="translate(52.7 429.4) scale(0.915 1)" text-anchor="middle">0</text><text transform="translate(172.4 429.4) scale(0.915 1)" text-anchor="middle">2</text><text transform="translate(292.0 429.4) scale(0.915 1)" text-anchor="middle">4</text><text transform="translate(411.7 429.4) scale(0.915 1)" text-anchor="middle">6</text><text transform="translate(531.3 429.4) scale(0.915 1)" text-anchor="middle">8</text><text transform="translate(44.3 411.0) scale(0.915 1)" text-anchor="end">0</text><text transform="translate(44.3 332.9) scale(0.915 1)" text-anchor="end">1</text><text transform="translate(44.3 254.8) scale(0.915 1)" text-anchor="end">2</text><text transform="translate(44.3 176.7) scale(0.915 1)" text-anchor="end">3</text><text transform="translate(44.3 98.6) scale(0.915 1)" text-anchor="end">4</text><text transform="translate(44.3 20.4) scale(0.915 1)" text-anchor="end">5</text></g>
<text x="292" y="459.5" text-anchor="middle" font-size="19.9" font-weight="bold">Injection volume/PV</text>
<text transform="translate(25.2 205.9) rotate(-90)" text-anchor="middle" font-size="20.2" font-weight="bold">Driving Pressure/MPa</text>
<rect x="430.8" y="10.9" width="100" height="112.5" fill="#fff" stroke="#000" stroke-width="1.2"/>
<line x1="433.5" y1="26.2" x2="476.7" y2="26.2" stroke="#000000" stroke-width="2.9"/>
<rect x="451.6" y="22.5" width="7.4" height="7.4" fill="#000000"/>
<text x="488.6" y="33.5" font-size="21" font-weight="bold">2PV</text>
<line x1="433.5" y1="54.0" x2="476.7" y2="54.0" stroke="#ff0000" stroke-width="2.9"/>
<circle cx="455.3" cy="54.0" r="4.1" fill="#ff0000"/>
<text x="488.6" y="61.3" font-size="21" font-weight="bold">4PV</text>
<line x1="433.5" y1="81.6" x2="476.7" y2="81.6" stroke="#0000ff" stroke-width="2.9"/>
<path d="M455.3 75.7L460.0 84.6L450.6 84.6Z" fill="#0000ff"/>
<text x="488.6" y="88.9" font-size="21" font-weight="bold">6PV</text>
<line x1="433.5" y1="108.9" x2="476.7" y2="108.9" stroke="#ff8000" stroke-width="2.9"/>
<path d="M455.3 103.2L460.8 108.9L455.3 114.6L449.8 108.9Z" fill="#ff8000"/>
<text x="488.6" y="116.2" font-size="21" font-weight="bold">8PV</text>
</svg></body></html>
